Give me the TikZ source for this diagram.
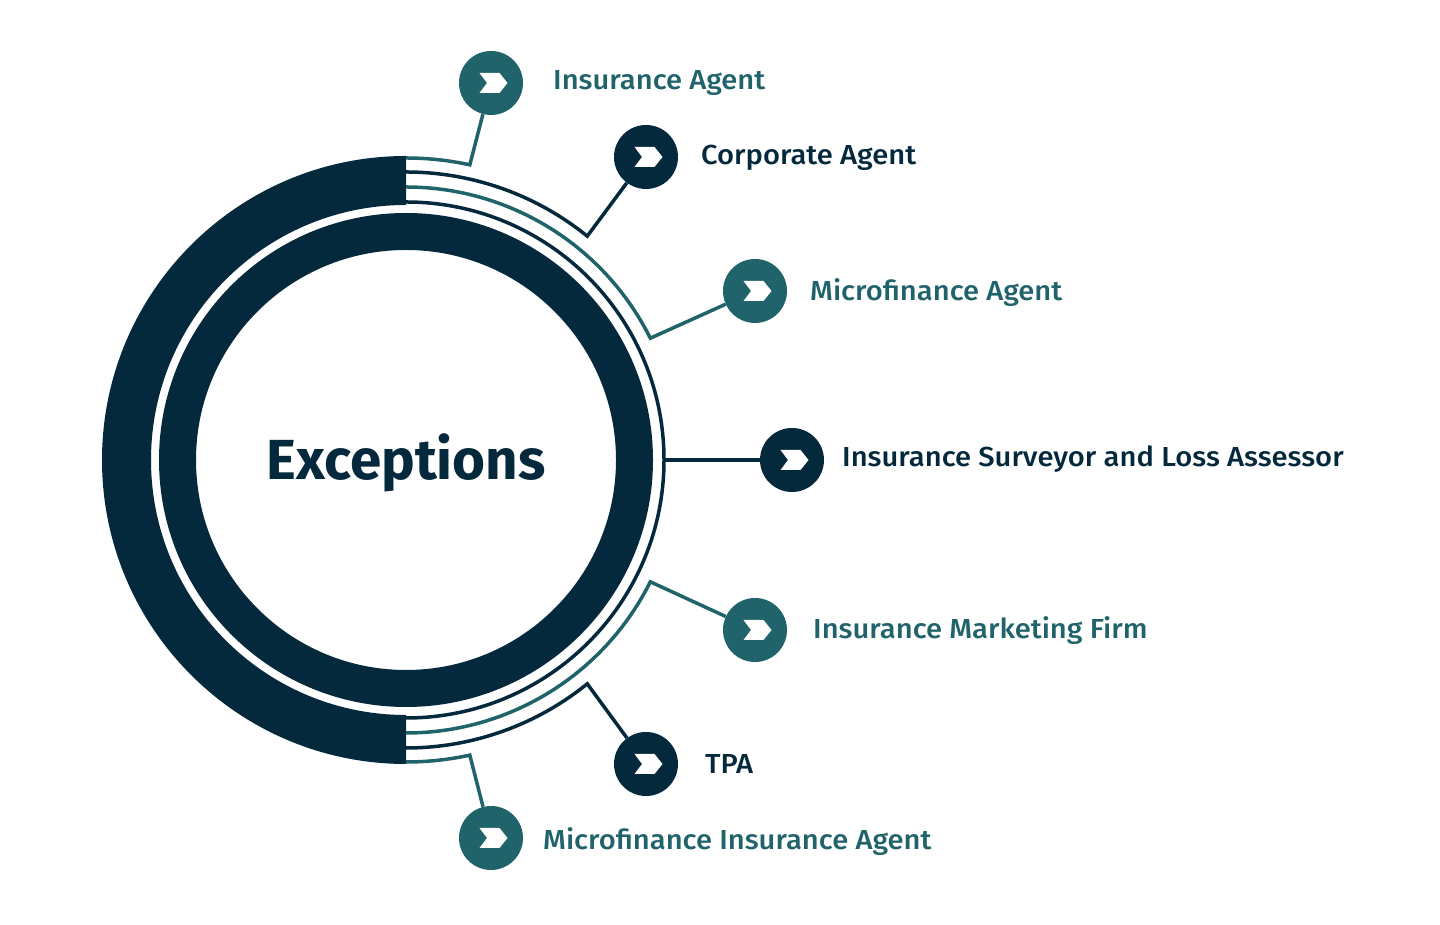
\documentclass[tikz,border=0pt]{standalone}
\usepackage{fontspec}
\setmainfont{Fira Sans}
\newfontfamily\labelfont{Fira Sans Medium}[FakeStretch=1.06]
\usetikzlibrary{calc}
\definecolor{navy}{RGB}{4,41,60}
\definecolor{tealc}{RGB}{32,99,106}
\begin{document}
\begin{tikzpicture}[x=1pt,y=1pt,
  icon/.style={circle, fill=#1, minimum size=64pt, inner sep=0pt},
  lbl/.style={anchor=base west, inner sep=0pt, text=#1, font=\labelfont\fontsize{27.5}{33}\selectfont},
  arcline/.style={draw=#1, line width=3.5pt, line join=miter},
  chev/.pic={\fill[white] (-11.5,10) -- (8.5,10) -- (16.5,0) -- (8.5,-10) -- (-11.5,-10) -- (-4,0) -- cycle;}
]
\useasboundingbox (0,0) rectangle (1440,925);
\coordinate (C) at (406,465);
% outer left band
\fill[navy] ($(C)+(90:304)$) arc[start angle=90,end angle=270,radius=304pt] -- ($(C)+(270:255)$) arc[start angle=270,end angle=90,radius=255pt] -- cycle;
% inner ring
\draw[navy,line width=37pt] (C) circle[radius=228.5pt];
\node[font=\bfseries\fontsize{56.5}{60}\selectfont, text=navy, anchor=base, inner sep=0pt] (title) at (406,445) {Exceptions};
% icons
\node[icon=tealc] (IA) at (491,842) {};
\node[icon=navy] (CA) at (646,768) {};
\node[icon=tealc] (MA) at (755,634) {};
\node[icon=navy] (IS) at (792,465) {};
\node[icon=tealc] (IM) at (755,295) {};
\node[icon=navy] (TP) at (646,161) {};
\node[icon=tealc] (MI) at (491,87) {};
\foreach \n in {IA,CA,MA,IS,IM,TP,MI} { \pic at (\n) {chev}; }
% arcs and connectors
\draw[arcline=tealc] ($(C)+(90:302)$) arc[start angle=90,end angle=77.8,radius=302pt] -- (IA);
\draw[arcline=navy] ($(C)+(90:288)$) arc[start angle=90,end angle=51,radius=288pt] -- (CA);
\draw[arcline=tealc] ($(C)+(90:273)$) arc[start angle=90,end angle=26.5,radius=273pt] -- (MA);
\draw[arcline=navy] ($(C)+(90:258)$) arc[start angle=90,end angle=-90,radius=258pt];
\coordinate (h) at ($(C)+(0:258)$);
\draw[arcline=navy] (h) -- (IS);
\draw[arcline=tealc] ($(C)+(-90:273)$) arc[start angle=-90,end angle=-26.5,radius=273pt] -- (IM);
\draw[arcline=navy] ($(C)+(-90:288)$) arc[start angle=-90,end angle=-51,radius=288pt] -- (TP);
\draw[arcline=tealc] ($(C)+(-90:302)$) arc[start angle=-90,end angle=-77.8,radius=302pt] -- (MI);
% labels
\node[lbl=tealc] (tIA) at (553,835.5) {Insurance Agent};
\node[lbl=navy] (tCA) at (701,760.5) {Corporate Agent};
\node[lbl=tealc] (tMA) at (810,624.5) {Microfinance Agent};
\node[lbl=navy] (tIS) at (842,458) {Insurance Surveyor and Loss Assessor};
\node[lbl=tealc] (tIM) at (813,286.5) {Insurance Marketing Firm};
\node[lbl=navy] (tTP) at (705,151.5) {TPA};
\node[lbl=tealc] (tMI) at (543,75.5) {Microfinance Insurance Agent};
\end{tikzpicture}
\end{document}
